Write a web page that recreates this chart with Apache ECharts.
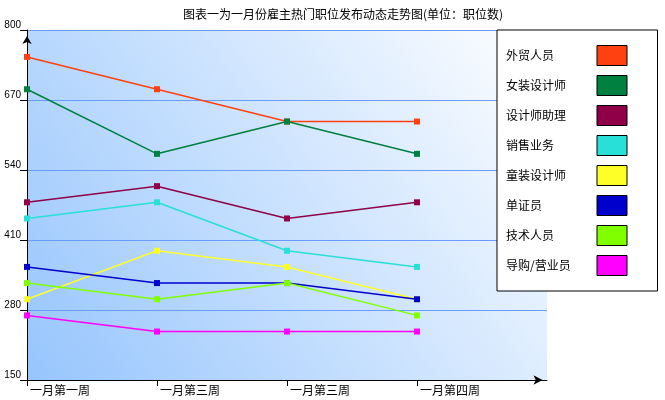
<!DOCTYPE html>
<html>
<head>
<meta charset="utf-8">
<script src="https://cdn.jsdelivr.net/npm/echarts@6/dist/echarts.min.js"></script>
<style>
  html, body { margin: 0; padding: 0; background: #fff; }
  #main { width: 665px; height: 400px; }
</style>
</head>
<body>
<div id="main"></div>
<script>
// 周次（原图第二、三周都写作“第三周”，照原样保留）
var weeks = ['一月第一周', '一月第三周', '一月第三周', '一月第四周'];
var yTicks = [150, 280, 410, 540, 670, 800];

var waimao = [750, 690, 630, 630];
var nvzhuang = [690, 570, 630, 570];
var zhuli = [480, 510, 450, 480];
var xiaoshou = [450, 480, 390, 360];
var tongzhuang = [300, 390, 360, 300];
var danzheng = [360, 330, 330, 300];
var jishu = [330, 300, 330, 270];
var daogou = [270, 240, 240, 240];

var cjk = '"Noto Sans CJK SC", sans-serif';

function fnSeries(name, sData, color) {
  return {
    name: name,
    type: 'line',
    data: sData,
    symbol: 'rect',
    symbolSize: 6,
    showSymbol: true,
    itemStyle: { color: color },
    lineStyle: { color: color, width: 1.5 },
    emphasis: { disabled: true }
  };
}

var chart = echarts.init(document.getElementById('main'), null, { renderer: 'canvas' });

var option = {
  animation: false,
  title: {
    text: '图表一为一月份雇主热门职位发布动态走势图(单位：职位数)',
    left: 183,
    top: 8,
    padding: 0,
    textStyle: { fontSize: 12, fontWeight: 'normal', color: '#000', fontFamily: cjk }
  },
  grid: {
    left: 27,
    top: 30,
    right: 118,
    bottom: 20,
    show: true,
    borderWidth: 0,
    backgroundColor: new echarts.graphic.LinearGradient(0, 1, 1, 0, [
      { offset: 0, color: '#96c5fd' },
      { offset: 1, color: '#ffffff' }
    ])
  },
  legend: {
    orient: 'vertical',
    left: 497,
    top: 30,
    align: 'right',
    padding: [15, 30, 15, 9],
    itemGap: 9,
    itemWidth: 30,
    itemHeight: 20,
    icon: 'rect',
    backgroundColor: '#fff',
    borderColor: '#000',
    borderWidth: 1,
    itemStyle: { borderColor: '#000', borderWidth: 1 },
    formatter: function (name) { return '{n|' + name + '}'; },
    textStyle: {
      rich: {
        n: { width: 86, align: 'left', fontSize: 12, lineHeight: 16, color: '#000', fontFamily: cjk }
      }
    }
  },
  xAxis: {
    type: 'category',
    boundaryGap: false,
    data: weeks.concat(['']),
    axisLine: {
      lineStyle: { color: '#000', width: 1 },
      symbol: ['none', 'arrow'],
      symbolSize: [7, 9],
      symbolOffset: [0, -4.5]
    },
    axisTick: {
      length: 6,
      lineStyle: { color: '#000' },
      interval: function (idx, val) { return val !== ''; }
    },
    axisLabel: {
      interval: 0,
      align: 'left',
      margin: 4,
      padding: [0, 0, 0, 3],
      fontSize: 12,
      color: '#000',
      fontFamily: cjk
    },
    splitLine: { show: false }
  },
  yAxis: {
    type: 'value',
    min: yTicks[0],
    max: yTicks[yTicks.length - 1],
    interval: yTicks[1] - yTicks[0],
    axisLine: {
      show: true,
      lineStyle: { color: '#000', width: 1 },
      symbol: ['none', 'arrow'],
      symbolSize: [7, 8],
      symbolOffset: [0, -6]
    },
    axisTick: { show: true, length: 7, lineStyle: { color: '#000' } },
    axisLabel: {
      margin: 6,
      verticalAlign: 'bottom',
      fontSize: 10,
      color: '#000',
      fontFamily: '"Liberation Sans", Arial, sans-serif'
    },
    splitLine: { show: true, lineStyle: { color: '#6a9cff', width: 1 } }
  },
  series: [
    fnSeries('外贸人员', waimao, '#ff4010'),
    fnSeries('女装设计师', nvzhuang, '#008040'),
    fnSeries('设计师助理', zhuli, '#900048'),
    fnSeries('销售业务', xiaoshou, '#28e0d8'),
    fnSeries('童装设计师', tongzhuang, '#ffff28'),
    fnSeries('单证员', danzheng, '#0000cc'),
    fnSeries('技术人员', jishu, '#80ff00'),
    fnSeries('导购/营业员', daogou, '#ff00ff')
  ]
};

chart.setOption(option);
</script>
</body>
</html>
